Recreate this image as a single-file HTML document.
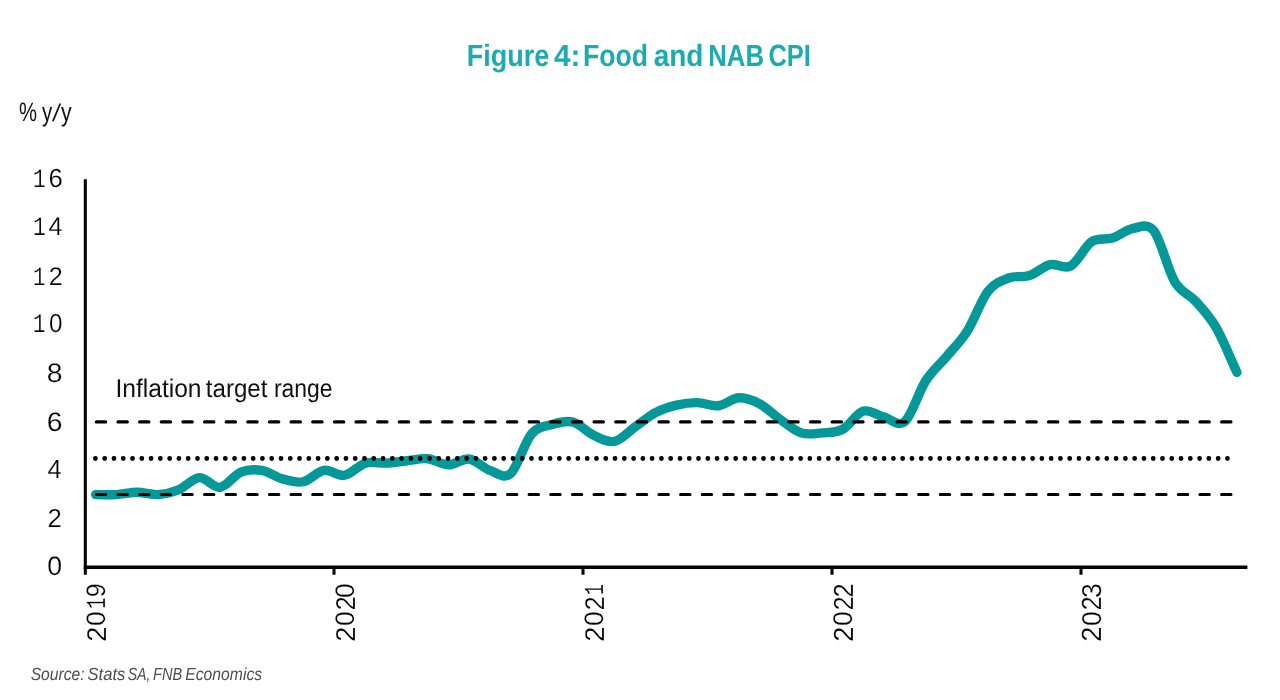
<!DOCTYPE html>
<html><head><meta charset="utf-8"><title>Figure 4: Food and NAB CPI</title>
<style>
html,body{margin:0;padding:0;background:#fff;}
body{width:1280px;height:700px;overflow:hidden;font-family:"Liberation Sans",sans-serif;}
svg{display:block;font-family:"Liberation Sans",sans-serif;will-change:transform;text-rendering:geometricPrecision;}
</style></head><body>
<svg width="1280" height="700" viewBox="0 0 1280 700">
<rect width="1280" height="700" fill="#ffffff"/>
<g font-size="30.70" font-weight="bold" font-style="normal" fill="#1cabaf">
<text transform="translate(466.81,65.80) scale(0.8789,1)">Figure</text>
<text transform="translate(553.91,65.80) scale(0.9687,1)">4:</text>
<text transform="translate(583.04,65.80) scale(0.8672,1)">Food</text>
<text transform="translate(653.66,65.80) scale(0.9132,1)">and</text>
<text transform="translate(708.30,65.80) scale(0.8374,1)">NAB</text>
<text transform="translate(768.48,65.80) scale(0.8269,1)">CPI</text>
</g>
<g font-size="26.60" font-weight="normal" font-style="normal" fill="#111">
<text transform="translate(18.99,121.20) scale(0.7612,1)">%</text>
<g><text transform="translate(42.00,121.20) scale(0.7669,1)">y</text><text transform="translate(51.9,120.9) skewX(-8)" font-size="24.2">/</text><text transform="translate(61.10,121.20) scale(0.7970,1)">y</text></g>
</g>
<g font-size="25.60" font-weight="normal" font-style="normal" fill="#111">
<text transform="translate(115.49,396.70) scale(0.9597,1)">Inflation</text>
<text transform="translate(205.82,396.70) scale(0.9418,1)">target</text>
<text transform="translate(273.90,396.70) scale(0.8949,1)">range</text>
</g>
<g font-size="17.60" font-weight="normal" font-style="italic" fill="#4d4d4d">
<text transform="translate(30.63,679.80) scale(0.8902,1)">Source:</text>
<text transform="translate(87.50,679.80) scale(0.9427,1)">Stats</text>
<text transform="translate(127.67,679.80) scale(0.8056,1)">SA,</text>
<text transform="translate(152.96,679.80) scale(0.8302,1)">FNB</text>
<text transform="translate(185.23,679.80) scale(0.8945,1)">Economics</text>
</g>
<g fill="#000" font-size="25.0" stroke="#fff" stroke-width="0.2">
<g><text transform="translate(33.01,187.00) scale(0.8500,1.0606)" font-family="Liberation Mono">1</text><text transform="translate(48.62,187.04) scale(1.0261,1.0451)">6</text></g>
<g><text transform="translate(33.01,234.70) scale(0.8500,1.0667)" font-family="Liberation Mono">1</text><text transform="translate(48.40,234.96) scale(1.0039,1.0353)">4</text></g>
<g><text transform="translate(33.06,284.80) scale(0.8250,1.0485)" font-family="Liberation Mono">1</text><text transform="translate(48.64,284.80) scale(1.0087,1.0229)">2</text></g>
<g><text transform="translate(33.06,332.20) scale(0.8250,1.0727)" font-family="Liberation Mono">1</text><text transform="translate(48.93,332.14) scale(0.9667,1.0423)">0</text></g>
<g><text transform="translate(46.67,382.33) scale(1.1319,1.0704)">8</text></g>
<g><text transform="translate(46.69,430.53) scale(1.1304,1.0761)">6</text></g>
<g><text transform="translate(47.59,478.16) scale(1.0196,1.0529)">4</text></g>
<g><text transform="translate(47.42,527.00) scale(1.0261,1.0343)">2</text></g>
<g><text transform="translate(47.23,575.23) scale(1.0667,1.0704)">0</text></g>
</g>
<g stroke="#000" stroke-width="3.05" fill="none">
<line x1="85.30" y1="179.3" x2="85.30" y2="574.7"/>
<line x1="83.77" y1="567.30" x2="1247.4" y2="567.30" stroke-width="3.4"/>
<line x1="334.00" y1="567.20" x2="334.00" y2="574.7"/>
<line x1="583.00" y1="567.20" x2="583.00" y2="574.7"/>
<line x1="832.00" y1="567.20" x2="832.00" y2="574.7"/>
<line x1="1081.00" y1="567.20" x2="1081.00" y2="574.7"/>
</g>
<g fill="#000" font-size="25.0" stroke="#fff" stroke-width="0.2">
<g><text transform="translate(105.50,641.86) rotate(-90) scale(1.0870,1.0857)">2</text><text transform="translate(105.23,626.06) rotate(-90) scale(1.0583,1.0704)">0</text><text transform="translate(105.20,608.81) rotate(-90) scale(0.7500,1.1030)" font-family="Liberation Mono">1</text><text transform="translate(105.23,597.25) rotate(-90) scale(1.0000,1.0704)">9</text></g>
<g><text transform="translate(354.50,641.86) rotate(-90) scale(1.0870,1.0914)">2</text><text transform="translate(354.23,626.06) rotate(-90) scale(1.0583,1.0761)">0</text><text transform="translate(354.50,610.25) rotate(-90) scale(1.0000,1.0914)">2</text><text transform="translate(354.23,598.06) rotate(-90) scale(1.0583,1.0761)">0</text></g>
<g><text transform="translate(603.50,641.86) rotate(-90) scale(1.0870,1.0857)">2</text><text transform="translate(603.23,626.06) rotate(-90) scale(1.0583,1.0704)">0</text><text transform="translate(603.50,610.25) rotate(-90) scale(1.0000,1.0857)">2</text><text transform="translate(603.20,595.31) rotate(-90) scale(0.7500,1.1030)" font-family="Liberation Mono">1</text></g>
<g><text transform="translate(852.60,641.86) rotate(-90) scale(1.0870,1.1029)">2</text><text transform="translate(852.33,626.06) rotate(-90) scale(1.0583,1.0873)">0</text><text transform="translate(852.60,610.25) rotate(-90) scale(1.0000,1.1029)">2</text><text transform="translate(852.60,597.47) rotate(-90) scale(1.0174,1.1029)">2</text></g>
<g><text transform="translate(1101.00,641.86) rotate(-90) scale(1.0870,1.1086)">2</text><text transform="translate(1100.73,626.06) rotate(-90) scale(1.0583,1.0930)">0</text><text transform="translate(1101.00,610.25) rotate(-90) scale(1.0000,1.1086)">2</text><text transform="translate(1100.73,598.06) rotate(-90) scale(1.0638,1.0930)">3</text></g>
</g>
<path d="M95.67,494.60 C102.59,494.60 109.51,495.00 116.42,494.60 C123.34,494.20 130.26,492.18 137.18,492.18 C144.09,492.18 151.01,495.00 157.93,494.60 C164.84,494.20 171.76,492.58 178.68,489.76 C185.59,486.94 192.51,478.06 199.43,477.66 C206.34,477.26 213.26,488.27 220.18,487.34 C227.09,486.41 234.01,474.92 240.93,472.09 C247.84,469.27 254.76,469.27 261.68,470.40 C268.59,471.53 275.51,476.97 282.43,478.87 C289.34,480.77 296.26,483.19 303.18,481.77 C310.09,480.36 317.01,471.49 323.93,470.40 C330.84,469.31 337.76,476.45 344.68,475.24 C351.59,474.03 358.51,465.16 365.43,463.14 C372.34,461.12 379.26,463.54 386.18,463.14 C393.09,462.74 400.01,461.45 406.93,460.72 C413.84,459.99 420.76,458.10 427.68,458.78 C434.59,459.47 441.51,464.79 448.43,464.83 C455.34,464.87 462.26,458.10 469.18,459.03 C476.09,459.95 483.01,467.98 489.93,470.40 C496.84,472.82 503.76,479.60 510.68,473.55 C517.59,467.50 524.51,442.29 531.42,434.10 C538.34,425.91 545.26,426.44 552.17,424.42 C559.09,422.40 566.01,420.19 572.92,422.00 C579.84,423.82 586.76,432.08 593.67,435.31 C600.59,438.54 607.51,442.77 614.42,441.36 C621.34,439.95 628.26,431.68 635.17,426.84 C642.09,422.00 649.01,415.95 655.92,412.32 C662.84,408.69 669.76,406.67 676.67,405.06 C683.59,403.45 690.51,402.52 697.42,402.64 C704.34,402.76 711.26,406.59 718.17,405.79 C725.09,404.98 732.01,398.12 738.92,397.80 C745.84,397.48 752.76,400.22 759.67,403.85 C766.59,407.48 773.51,414.74 780.42,419.58 C787.34,424.42 794.26,430.67 801.17,432.89 C808.09,435.11 815.01,433.50 821.92,432.89 C828.84,432.29 835.76,432.89 842.67,429.26 C849.59,425.63 856.51,413.13 863.42,411.11 C870.34,409.09 877.26,415.43 884.17,417.16 C891.09,418.89 898.01,427.57 904.92,421.52 C911.84,415.47 918.76,391.67 925.67,380.86 C932.59,370.05 939.51,364.93 946.42,356.66 C953.34,348.39 960.26,342.14 967.17,331.25 C974.09,320.36 981.01,300.19 987.92,291.32 C994.84,282.45 1001.76,280.63 1008.67,278.01 C1015.59,275.39 1022.51,277.81 1029.42,275.59 C1036.34,273.37 1043.26,266.31 1050.17,264.70 C1057.09,263.09 1064.01,269.74 1070.92,265.91 C1077.84,262.08 1084.76,246.35 1091.67,241.71 C1098.59,237.07 1105.51,240.30 1112.42,238.08 C1119.34,235.86 1126.26,229.61 1133.17,228.40 C1140.09,227.19 1147.50,222.58 1153.92,230.82 C1160.84,239.69 1167.76,269.94 1174.67,281.64 C1181.59,293.34 1188.51,293.34 1195.42,301.00 C1202.34,308.66 1209.26,315.72 1216.17,327.62 C1223.09,339.52 1230.01,357.47 1236.92,372.39" fill="none" stroke="#059899" stroke-width="9.4" stroke-linecap="round" stroke-linejoin="round"/>
<g stroke="#000" fill="none" stroke-linecap="round">
<line x1="96.3" y1="421.90" x2="1231" y2="421.90" stroke-width="3.1" stroke-dasharray="9.4 12.24"/>
<line x1="96.3" y1="494.50" x2="1231" y2="494.50" stroke-width="3.1" stroke-dasharray="9.4 12.24"/>
<line x1="95.4" y1="458.50" x2="1229" y2="458.50" stroke-width="4.8" stroke-dasharray="0 9.279"/>
</g>
</svg></body></html>
